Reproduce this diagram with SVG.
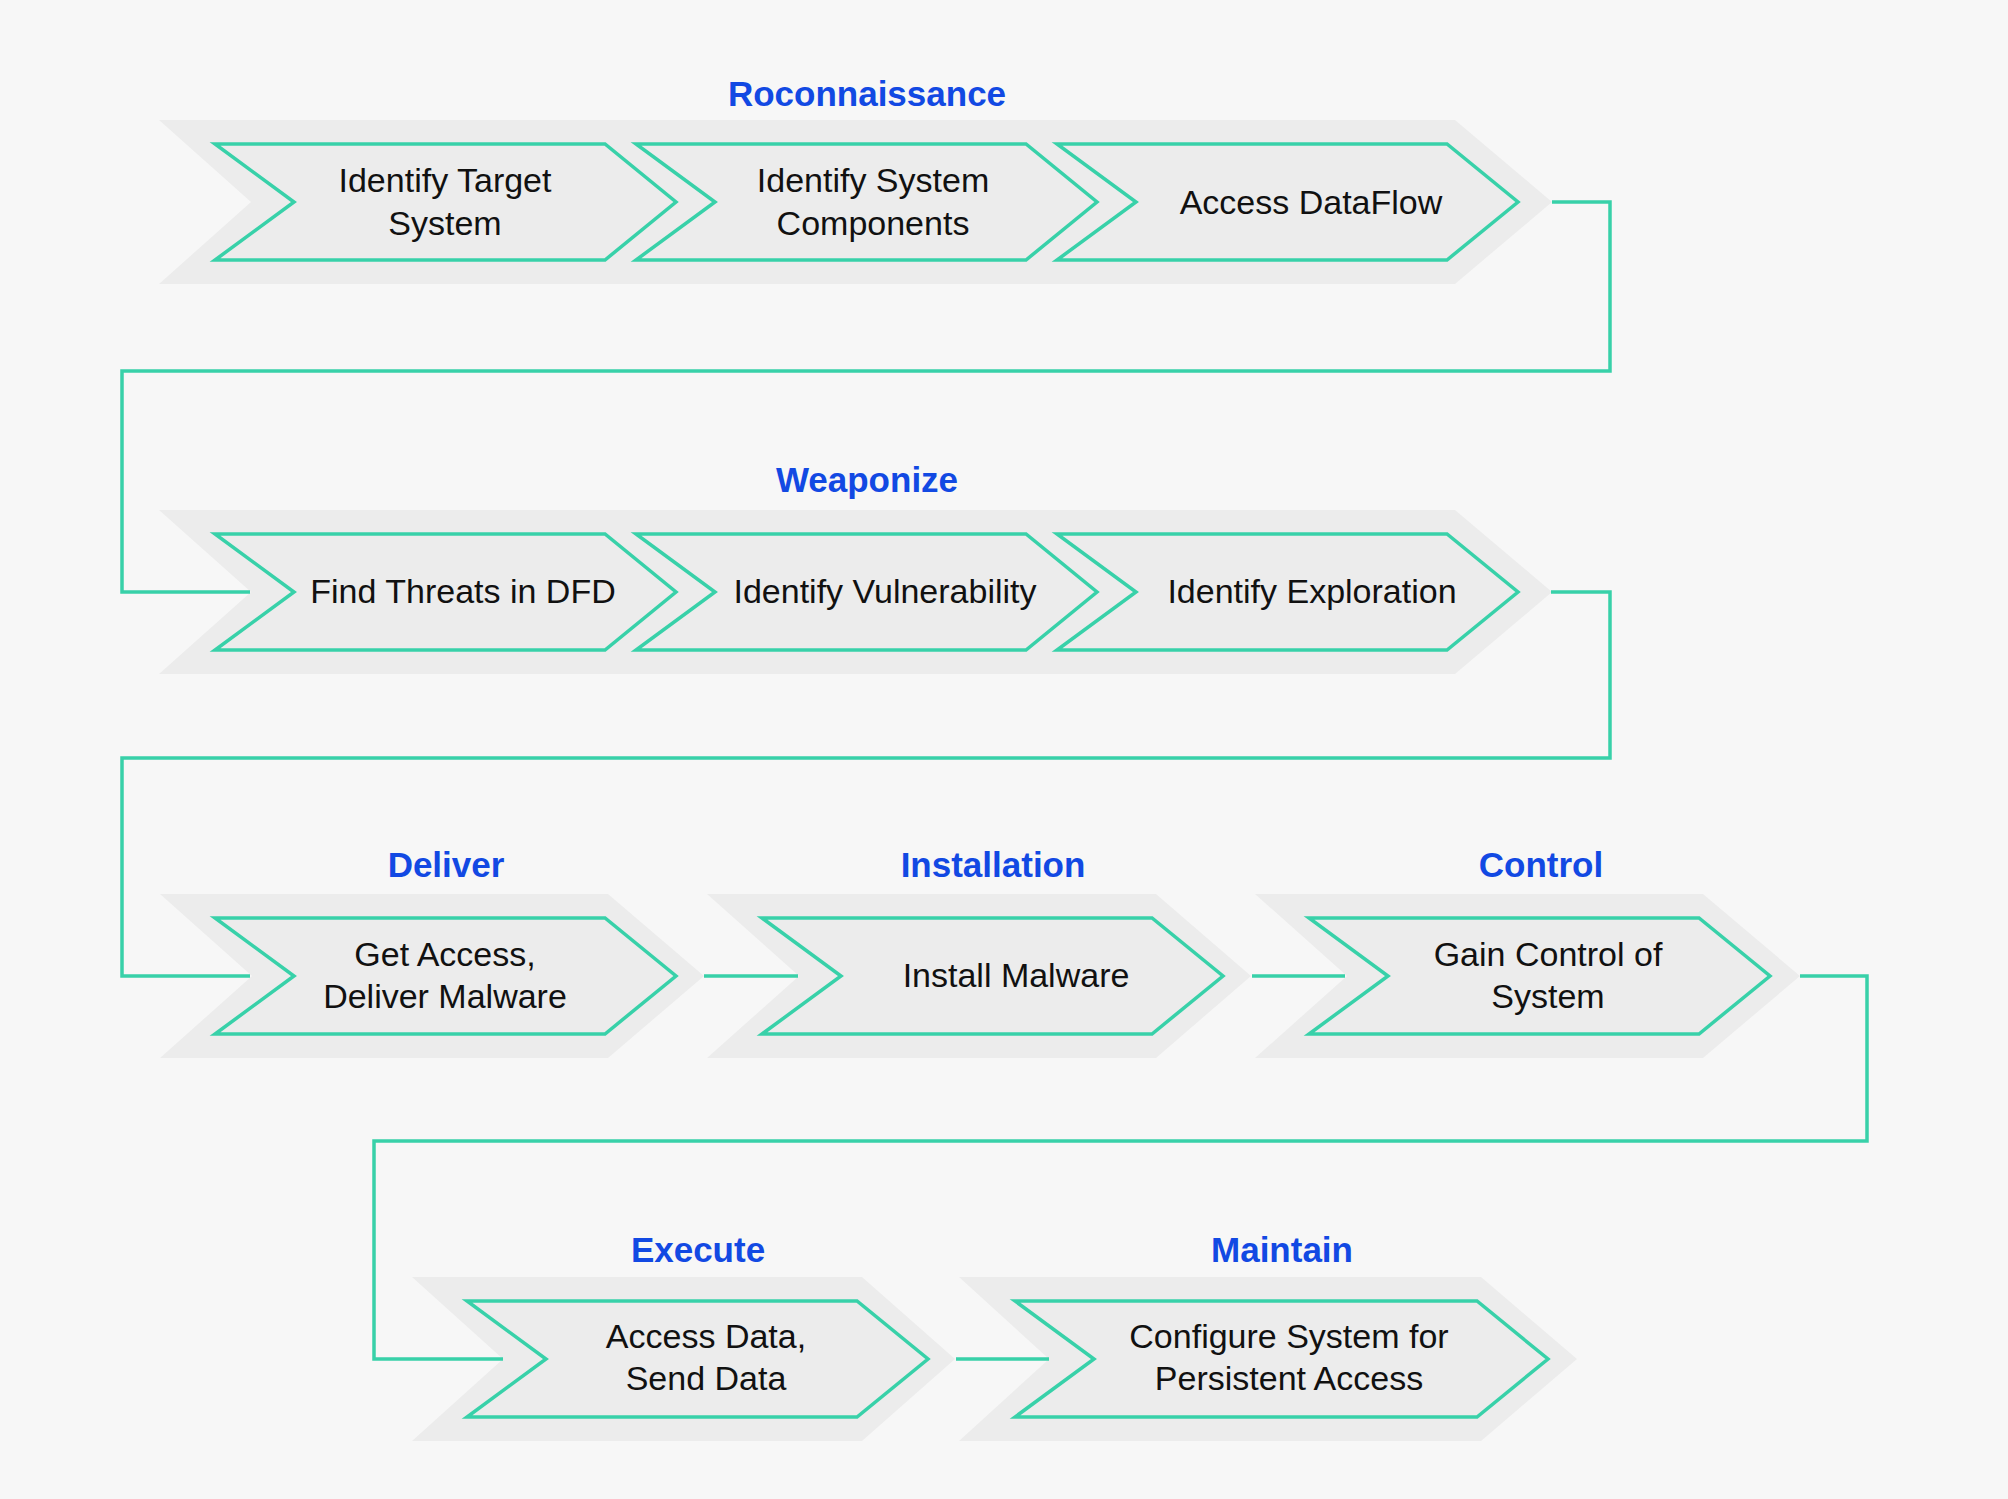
<svg xmlns="http://www.w3.org/2000/svg" width="2008" height="1499" viewBox="0 0 2008 1499">
<defs>
<style>
.band{fill:#ececec;stroke:none}
.chev{fill:#ececec;stroke:#38d1a9;stroke-width:3.5;stroke-linejoin:miter}
.conn{fill:none;stroke:#38d1a9;stroke-width:3.5;stroke-linejoin:miter}
.t{font-family:"Liberation Sans",Arial,sans-serif;font-size:34px;fill:#111111;text-anchor:middle}
.h{font-family:"Liberation Sans",Arial,sans-serif;font-size:35px;font-weight:bold;fill:#1249e3;text-anchor:middle}
</style>
</defs>
<rect x="0" y="0" width="2008" height="1499" fill="#f7f7f7"/>

<g id="bands">
<polygon class="band" points="159,120 1455,120 1552,202 1455,284 159,284 251,202"/>
<polygon class="band" points="159,510 1455,510 1552,592 1455,674 159,674 251,592"/>
<polygon class="band" points="160,894 608,894 704,976 608,1058 160,1058 252,976"/>
<polygon class="band" points="707,894 1156,894 1251,976 1156,1058 707,1058 799,976"/>
<polygon class="band" points="1255,894 1703,894 1800,976 1703,1058 1255,1058 1347,976"/>
<polygon class="band" points="412,1277 862,1277 955,1359 862,1441 412,1441 503,1359"/>
<polygon class="band" points="959,1277 1481,1277 1577,1359 1481,1441 959,1441 1049,1359"/>
</g>

<g id="connectors">
<polyline class="conn" points="1552,202 1610,202 1610,371 122,371 122,592 250,592"/>
<polyline class="conn" points="1551,592 1610,592 1610,758 122,758 122,976 250,976"/>
<line class="conn" x1="704" y1="976" x2="798" y2="976"/>
<line class="conn" x1="1252" y1="976" x2="1345" y2="976"/>
<polyline class="conn" points="1800,976 1867,976 1867,1141 374,1141 374,1359 503,1359"/>
<line class="conn" x1="956" y1="1359" x2="1049" y2="1359"/>
</g>

<g id="titles">
<text class="h" x="867" y="106">Roconnaissance</text>
<text class="h" x="867" y="492">Weaponize</text>
<text class="h" x="446" y="877">Deliver</text>
<text class="h" x="993" y="877">Installation</text>
<text class="h" x="1541" y="877">Control</text>
<text class="h" x="698" y="1262">Execute</text>
<text class="h" x="1282" y="1262">Maintain</text>
</g>

<g id="identify-target-system">
<polygon class="chev" points="215,144 605,144 676,202 605,260 215,260 294,202"/>
<text class="t" x="445" y="192">Identify Target</text>
<text class="t" x="445" y="235">System</text>
</g>
<g id="identify-system-components">
<polygon class="chev" points="636,144 1026,144 1097,202 1026,260 636,260 715,202"/>
<text class="t" x="873" y="192">Identify System</text>
<text class="t" x="873" y="235">Components</text>
</g>
<g id="access-dataflow">
<polygon class="chev" points="1057,144 1447,144 1518,202 1447,260 1057,260 1136,202"/>
<text class="t" x="1311" y="214">Access DataFlow</text>
</g>

<g id="find-threats">
<polygon class="chev" points="215,534 605,534 676,592 605,650 215,650 294,592"/>
<text class="t" x="463" y="603">Find Threats in DFD</text>
</g>
<g id="identify-vulnerability">
<polygon class="chev" points="636,534 1026,534 1097,592 1026,650 636,650 715,592"/>
<text class="t" x="885" y="603">Identify Vulnerability</text>
</g>
<g id="identify-exploration">
<polygon class="chev" points="1057,534 1447,534 1518,592 1447,650 1057,650 1136,592"/>
<text class="t" x="1312" y="603">Identify Exploration</text>
</g>

<g id="get-access">
<polygon class="chev" points="215,918 605,918 676,976 605,1034 215,1034 294,976"/>
<text class="t" x="445" y="966">Get Access,</text>
<text class="t" x="445" y="1008">Deliver Malware</text>
</g>
<g id="install-malware">
<polygon class="chev" points="762,918 1152,918 1223,976 1152,1034 762,1034 841,976"/>
<text class="t" x="1016" y="987">Install Malware</text>
</g>
<g id="gain-control">
<polygon class="chev" points="1309,918 1699,918 1770,976 1699,1034 1309,1034 1388,976"/>
<text class="t" x="1548" y="966">Gain Control of</text>
<text class="t" x="1548" y="1008">System</text>
</g>

<g id="access-send-data">
<polygon class="chev" points="467,1301 857,1301 928,1359 857,1417 467,1417 546,1359"/>
<text class="t" x="706" y="1348">Access Data,</text>
<text class="t" x="706" y="1390">Send Data</text>
</g>
<g id="configure-system">
<polygon class="chev" points="1015,1301 1477,1301 1548,1359 1477,1417 1015,1417 1094,1359"/>
<text class="t" x="1289" y="1348">Configure System for</text>
<text class="t" x="1289" y="1390">Persistent Access</text>
</g>
</svg>
